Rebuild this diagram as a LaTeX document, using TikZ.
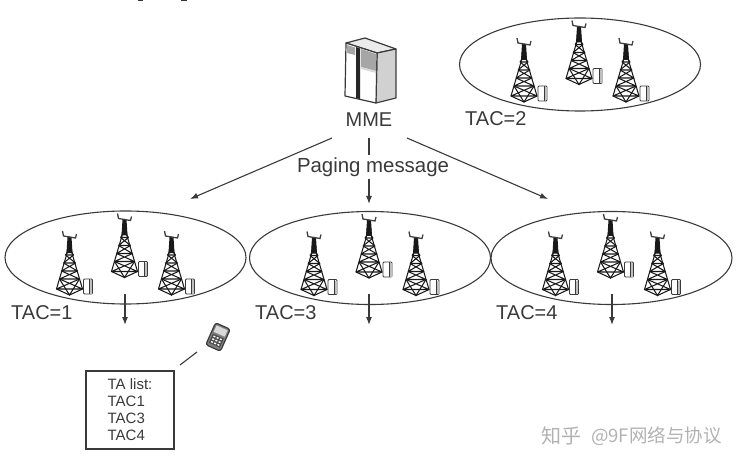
\documentclass[tikz,border=0pt]{standalone}
\usepackage{fontspec}
\setmainfont{Liberation Sans}
\newfontfamily\cjk{Noto Sans CJK SC}
\usetikzlibrary{calc,positioning,shapes.geometric,arrows.meta}
\definecolor{ink}{HTML}{3A3A3A}
\newcommand{\lwdth}{1.1pt}

\begin{document}
\begin{tikzpicture}[
    x=1pt, y=-1pt,
    cell/.style={ellipse,draw=ink,line width=\lwdth,minimum width=241pt,minimum height=93pt,inner sep=0},
    flow/.style={-{Latex[length=8pt,width=6pt]},draw=ink,line width=\lwdth},
    tag/.style={font=\fontsize{20}{20}\selectfont,text=ink,inner sep=0},
    listbox/.style={rectangle,draw=ink,line width=1.5pt,minimum width=88pt,minimum height=78pt,
                    align=left,text=ink,font=\fontsize{15}{17}\selectfont},
    lattice/.style={draw=black!90,line width=1.05pt},
    tower/.pic={
        \draw[lattice,fill=white] (0,-56) -- (-3,-40) -- (-13,-6) -- (0,0) -- (13,-6) -- (3,-40) -- cycle;
        \foreach \ya/\wa/\yb/\wb in {-56/0/-48/2,-48/2/-40/4,-40/4/-32/6,-32/6/-24/8,-24/8/-16/10,-16/10/-6/13}{
            \draw[lattice] (-\wa,\ya) -- (\wb,\yb) (\wa,\ya) -- (-\wb,\yb) (-\wb,\yb) -- (\wb,\yb);
        }
        \draw[lattice] (-10,-16) -- (0,0) -- (10,-16);
        \fill[black!90] (-2,-58) -- (2,-58) -- (3,-42) -- (-3,-42) -- cycle;
        \draw[draw=black!75,line width=1.3pt] (-7,-64) -- (-6,-59) -- (6,-57) -- (7,-61);
        % cabinet beside the mast
        \draw[draw=ink,line width=0.9pt,fill=white,rounded corners=1pt] (14,-16) rectangle (23,-1);
        \fill[black!25] (20,-15) rectangle (22.5,-1.5);
        \draw[draw=ink,line width=0.6pt] (20,-16) -- (20,-1);
    }
]

    \useasboundingbox (0,0) rectangle (737,468);

    % cells
    \node[cell] (tac2) at (580,64.5) {};
    \node[cell] (tac1) at (125.5,257.5) {};
    \node[cell] (tac3) at (370,258) {};
    \node[cell] (tac4) at (611.5,258) {};

    \foreach \cellname in {tac1,tac2,tac3,tac4}{
        \pic at ($(\cellname)+(-56,37.5)$) {tower};
        \pic at ($(\cellname)+(-1,20)$) {tower};
        \pic at ($(\cellname)+(46,37.5)$) {tower};
    }

    \node[tag,anchor=west] (lab1) at (11,313) {TAC=1};
    \node[tag,anchor=west] (lab2) at (465,119) {TAC=2};
    \node[tag,anchor=west] (lab3) at (255,313) {TAC=3};
    \node[tag,anchor=west] (lab4) at (496,313) {TAC=4};

    % MME cabinet
    \draw[ink,line width=1.2pt,fill=black!8,line join=round] (346,43) -- (365,38) -- (396,49) -- (377,53) -- cycle;
    \draw[ink,line width=1.2pt,fill=black!18,line join=round] (377,53) -- (396,49) -- (396,98) -- (376,103) -- cycle;
    \draw[ink,line width=1.2pt,fill=white,line join=round] (346,43) -- (377,53) -- (376,103) -- (345,96) -- cycle;
    \fill[black!35] (347,45) -- (355,47.5) -- (355,55) -- (347,53) -- cycle;
    \fill[black!35] (361,49) -- (376,54) -- (376,71) -- (361,67) -- cycle;
    \fill[black!15] (361,67) -- (376,71) -- (376,73) -- (361,69) -- cycle;
    \fill[black!85] (356,47) -- (360,48.5) -- (360,99) -- (356,98) -- cycle;

    \node[tag] (mme) at (369,120) {MME};
    \node[tag,fill=white,inner ysep=2pt,font=\fontsize{20.4}{20}\selectfont] (paging) at (373,167) {Paging message};

    \coordinate (leftout) at (332,138);
    \coordinate (leftend) at (190,199);
    \coordinate (rightout) at (407,138);
    \coordinate (rightend) at (548,199);
    \coordinate (stemtop) at (369,138);
    \coordinate (stemend) at (369,204);

    \draw[flow] (leftout) -- (leftend);
    \draw[flow] (rightout) -- (rightend);
    \draw[ink,line width=\lwdth] (stemtop) -- (stemtop |- paging.north);
    \draw[flow] (stemtop |- paging.south) -- (stemend);

    % paging down to the handset
    \foreach \cellname/\xdown in {tac1/125,tac3/369,tac4/612}{
        \coordinate (from\cellname) at (\xdown,294);
        \coordinate (to\cellname) at (\xdown,325);
        \draw[flow] (from\cellname) -- (to\cellname);
    }

    % handset
    \begin{scope}[shift={(218,337)},rotate=-24]
        \draw[ink,line width=1.2pt,fill=black!50,rounded corners=2.5pt] (-8,-12) rectangle (8,12);
        \fill[black!15] (-6,-10) rectangle (6,-3);
        \fill[black!70] (-6,-1) rectangle (6,9);
        \foreach \kx in {-3.5,0,3.5}{
            \foreach \ky in {1,4,7}{
                \fill[white] (\kx-1,\ky-0.7) rectangle (\kx+1,\ky+0.7);
            }
        }
    \end{scope}

    \node[listbox] (talist) at (130,410) {TA list:\\TAC1\\TAC3\\TAC4};
    \coordinate (phonelow) at (197,352);
    \coordinate (boxhigh) at (180,365);
    \draw[ink,line width=\lwdth] (boxhigh) -- (phonelow);

    % cut text along the top edge
    \fill[black!80] (138,0) rectangle (143,1.5);
    \fill[black!80] (181,0) rectangle (187,1.5);

    % watermark
    \node[anchor=west,inner sep=0,text=black!30,font=\cjk\fontsize{20}{20}\selectfont] (zhihu) at (541,436) {知乎};
    \node[anchor=west,inner sep=0,text=black!30,font=\cjk\fontsize{18.5}{18.5}\selectfont] (handle) at (591,436) {@9F网络与协议};

\end{tikzpicture}
\end{document}
